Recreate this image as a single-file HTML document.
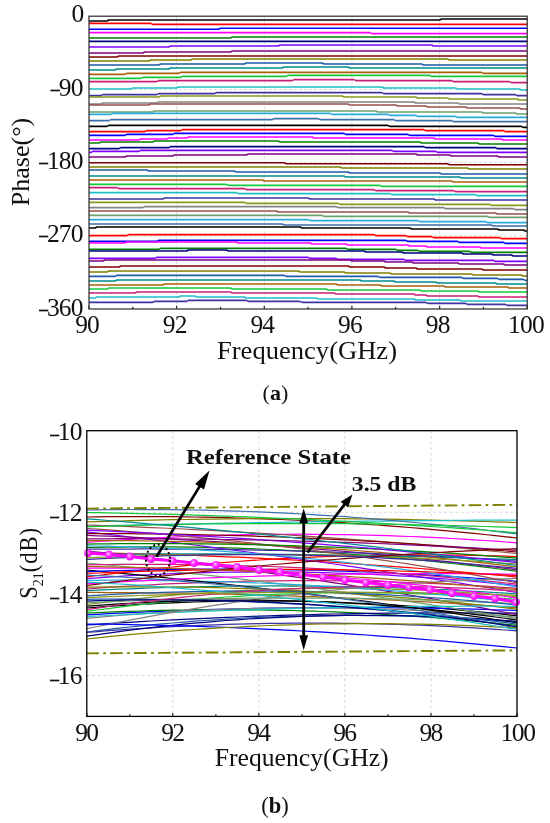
<!DOCTYPE html>
<html><head><meta charset="utf-8"><title>Figure</title>
<style>html,body{margin:0;padding:0;background:#fff}body{width:550px;height:823px;overflow:hidden}</style></head>
<body>
<svg width="550" height="823" viewBox="0 0 550 823" style="display:block">
<rect width="550" height="823" fill="#fff"/>
<g stroke="#d0d0d0" stroke-width="0.8" stroke-dasharray="3 2" fill="none">
<line x1="176.6" y1="16.2" x2="176.6" y2="309.0"/>
<line x1="264.3" y1="16.2" x2="264.3" y2="309.0"/>
<line x1="351.9" y1="16.2" x2="351.9" y2="309.0"/>
<line x1="439.6" y1="16.2" x2="439.6" y2="309.0"/>
<line x1="89.0" y1="89.4" x2="527.2" y2="89.4"/>
<line x1="89.0" y1="162.6" x2="527.2" y2="162.6"/>
<line x1="89.0" y1="235.8" x2="527.2" y2="235.8"/>
</g>
<g fill="none" stroke-width="1.6" stroke-linejoin="round">
<path d="M89.0 21.0 L106.9 21.0 L108.9 20.0 L439.6 20.0 L441.6 19.0 L527.2 19.0" stroke="#000000"/>
<path d="M89.0 23.4 L150.7 23.4 L152.7 24.4 L527.2 24.4" stroke="#FF0000"/>
<path d="M89.0 29.2 L218.5 29.2 L220.5 28.2 L527.2 28.2" stroke="#0000FF"/>
<path d="M89.0 32.6 L369.8 32.6 L371.8 33.6 L527.2 33.6" stroke="#FF00FF"/>
<path d="M89.0 38.0 L230.4 38.0 L232.4 37.0 L527.2 37.0" stroke="#008000"/>
<path d="M89.0 41.4 L527.2 41.4" stroke="#000080"/>
<path d="M89.0 47.0 L168.7 47.0 L170.7 46.0 L278.2 46.0 L280.2 45.0 L431.6 45.0 L433.6 46.0 L527.2 46.0" stroke="#8000FF"/>
<path d="M89.0 53.0 L142.8 53.0 L144.8 52.0 L230.4 52.0 L232.4 51.0 L527.2 51.0" stroke="#800080"/>
<path d="M89.0 57.0 L116.9 57.0 L118.9 56.0 L527.2 56.0" stroke="#800000"/>
<path d="M89.0 61.0 L148.7 61.0 L150.7 60.0 L190.6 60.0 L192.6 59.0 L447.5 59.0 L449.5 60.0 L527.2 60.0" stroke="#808000"/>
<path d="M89.0 65.0 L158.7 65.0 L160.7 64.0 L244.4 64.0 L246.4 63.0 L322.0 63.0 L324.0 64.0 L421.6 64.0 L423.6 65.0 L527.2 65.0" stroke="#1E5AA8"/>
<path d="M89.0 70.0 L114.9 70.0 L116.9 69.0 L168.7 69.0 L170.7 68.0 L282.2 68.0 L284.2 67.0 L347.9 67.0 L349.9 68.0 L527.2 68.0" stroke="#008C8C"/>
<path d="M89.0 74.4 L124.8 74.4 L126.8 73.4 L178.6 73.4 L180.6 72.4 L481.4 72.4 L483.4 73.4 L527.2 73.4" stroke="#A8600A"/>
<path d="M89.0 78.4 L140.8 78.4 L142.8 77.4 L180.6 77.4 L182.6 76.4 L286.2 76.4 L288.2 75.4 L429.6 75.4 L431.6 76.4 L527.2 76.4" stroke="#14C83C"/>
<path d="M89.0 81.6 L156.7 81.6 L158.7 80.6 L292.2 80.6 L294.2 79.6 L353.9 79.6 L355.9 80.6 L451.5 80.6 L453.5 81.6 L509.3 81.6 L511.3 82.6 L527.2 82.6" stroke="#C81E78"/>
<path d="M89.0 89.0 L130.8 89.0 L132.8 88.0 L176.6 88.0 L178.6 87.0 L381.8 87.0 L383.8 88.0 L455.5 88.0 L457.5 89.0 L519.2 89.0 L521.2 90.0 L527.2 90.0" stroke="#1EBEC8"/>
<path d="M89.0 95.6 L100.9 95.6 L102.9 94.6 L156.7 94.6 L158.7 93.6 L214.5 93.6 L216.5 92.6 L381.8 92.6 L383.8 93.6 L481.4 93.6 L483.4 94.6 L515.2 94.6 L517.2 95.6 L527.2 95.6" stroke="#3C32A0"/>
<path d="M89.0 97.0 L158.7 97.0 L160.7 96.0 L342.0 96.0 L344.0 97.0 L415.7 97.0 L417.7 98.0 L447.5 98.0 L449.5 99.0 L517.2 99.0 L519.2 100.0 L527.2 100.0" stroke="#8C961E"/>
<path d="M89.0 104.0 L100.9 104.0 L102.9 103.0 L156.7 103.0 L158.7 102.0 L413.7 102.0 L415.7 103.0 L457.5 103.0 L459.5 104.0 L527.2 104.0" stroke="#828282"/>
<path d="M89.0 105.0 L148.7 105.0 L150.7 104.0 L347.9 104.0 L349.9 105.0 L395.7 105.0 L397.7 106.0 L425.6 106.0 L427.6 107.0 L465.4 107.0 L467.4 108.0 L519.2 108.0 L521.2 109.0 L527.2 109.0" stroke="#96504B"/>
<path d="M89.0 112.0 L152.7 112.0 L154.7 111.0 L375.8 111.0 L377.8 112.0 L481.4 112.0 L483.4 113.0 L515.2 113.0 L517.2 114.0 L527.2 114.0" stroke="#6EA06E"/>
<path d="M89.0 114.4 L110.9 114.4 L112.9 113.4 L330.0 113.4 L332.0 114.4 L387.8 114.4 L389.8 115.4 L415.7 115.4 L417.7 116.4 L455.5 116.4 L457.5 117.4 L527.2 117.4" stroke="#28AADC"/>
<path d="M89.0 120.6 L108.9 120.6 L110.9 119.6 L272.2 119.6 L274.2 118.6 L318.1 118.6 L320.1 119.6 L393.7 119.6 L395.7 120.6 L451.5 120.6 L453.5 121.6 L527.2 121.6" stroke="#3C6EAA"/>
<path d="M89.0 126.4 L106.9 126.4 L108.9 125.4 L387.8 125.4 L389.8 126.4 L521.2 126.4 L523.2 127.4 L527.2 127.4" stroke="#000000"/>
<path d="M89.0 131.6 L144.8 131.6 L146.8 130.6 L180.6 130.6 L182.6 129.6 L423.6 129.6 L425.6 130.6 L503.3 130.6 L505.3 131.6 L527.2 131.6" stroke="#FF0000"/>
<path d="M89.0 135.4 L124.8 135.4 L126.8 134.4 L172.6 134.4 L174.6 133.4 L343.9 133.4 L345.9 134.4 L407.7 134.4 L409.7 135.4 L493.3 135.4 L495.3 136.4 L527.2 136.4" stroke="#0000FF"/>
<path d="M89.0 140.0 L138.8 140.0 L140.8 139.0 L166.7 139.0 L168.7 138.0 L186.6 138.0 L188.6 137.0 L312.1 137.0 L314.1 138.0 L433.6 138.0 L435.6 139.0 L501.3 139.0 L503.3 140.0 L527.2 140.0" stroke="#FF00FF"/>
<path d="M89.0 143.0 L99.0 143.0 L101.0 142.0 L152.7 142.0 L154.7 141.0 L278.2 141.0 L280.2 142.0 L419.6 142.0 L421.6 143.0 L477.4 143.0 L479.4 144.0 L527.2 144.0" stroke="#008000"/>
<path d="M89.0 148.6 L118.9 148.6 L120.9 147.6 L168.7 147.6 L170.7 146.6 L423.6 146.6 L425.6 147.6 L495.3 147.6 L497.3 148.6 L527.2 148.6" stroke="#000080"/>
<path d="M89.0 152.4 L91.0 152.4 L93.0 151.4 L138.8 151.4 L140.8 150.4 L391.7 150.4 L393.7 151.4 L435.6 151.4 L437.6 152.4 L527.2 152.4" stroke="#8000FF"/>
<path d="M89.0 157.0 L124.8 157.0 L126.8 156.0 L172.6 156.0 L174.6 155.0 L246.3 155.0 L248.3 154.0 L415.7 154.0 L417.7 155.0 L449.5 155.0 L451.5 156.0 L497.3 156.0 L499.3 157.0 L527.2 157.0" stroke="#800080"/>
<path d="M89.0 162.8 L284.2 162.8 L286.2 163.8 L447.5 163.8 L449.5 164.8 L527.2 164.8" stroke="#800000"/>
<path d="M89.0 167.0 L340.0 167.0 L342.0 168.0 L467.4 168.0 L469.4 169.0 L527.2 169.0" stroke="#808000"/>
<path d="M89.0 170.0 L146.8 170.0 L148.8 171.0 L234.4 171.0 L236.4 172.0 L347.9 172.0 L349.9 173.0 L439.6 173.0 L441.6 174.0 L527.2 174.0" stroke="#1E5AA8"/>
<path d="M89.0 176.0 L343.9 176.0 L345.9 177.0 L459.5 177.0 L461.5 178.0 L527.2 178.0" stroke="#008C8C"/>
<path d="M89.0 180.0 L262.3 180.0 L264.3 181.0 L451.5 181.0 L453.5 182.0 L527.2 182.0" stroke="#A8600A"/>
<path d="M89.0 184.4 L226.4 184.4 L228.4 185.4 L379.8 185.4 L381.8 186.4 L527.2 186.4" stroke="#14C83C"/>
<path d="M89.0 187.6 L116.9 187.6 L118.9 188.6 L244.4 188.6 L246.4 189.6 L373.8 189.6 L375.8 190.6 L453.5 190.6 L455.5 191.6 L527.2 191.6" stroke="#C81E78"/>
<path d="M89.0 192.6 L236.4 192.6 L238.4 193.6 L389.8 193.6 L391.8 194.6 L475.4 194.6 L477.4 195.6 L527.2 195.6" stroke="#1EBEC8"/>
<path d="M89.0 199.0 L162.7 199.0 L164.7 198.0 L308.1 198.0 L310.1 199.0 L433.6 199.0 L435.6 200.0 L527.2 200.0" stroke="#3C32A0"/>
<path d="M89.0 202.4 L244.4 202.4 L246.4 203.4 L338.0 203.4 L340.0 204.4 L489.3 204.4 L491.3 205.4 L527.2 205.4" stroke="#8C961E"/>
<path d="M89.0 207.6 L142.8 207.6 L144.8 206.6 L336.0 206.6 L338.0 207.6 L443.5 207.6 L445.5 208.6 L513.2 208.6 L515.2 209.6 L527.2 209.6" stroke="#828282"/>
<path d="M89.0 211.0 L276.2 211.0 L278.2 212.0 L407.7 212.0 L409.7 213.0 L495.3 213.0 L497.3 214.0 L527.2 214.0" stroke="#96504B"/>
<path d="M89.0 215.4 L322.0 215.4 L324.0 216.4 L487.4 216.4 L489.4 217.4 L527.2 217.4" stroke="#6EA06E"/>
<path d="M89.0 219.6 L308.1 219.6 L310.1 220.6 L417.6 220.6 L419.6 221.6 L485.4 221.6 L487.4 222.6 L527.2 222.6" stroke="#28AADC"/>
<path d="M89.0 224.0 L282.2 224.0 L284.2 225.0 L491.3 225.0 L493.3 226.0 L527.2 226.0" stroke="#3C6EAA"/>
<path d="M89.0 228.0 L95.0 228.0 L97.0 227.0 L300.1 227.0 L302.1 228.0 L409.7 228.0 L411.7 229.0 L497.3 229.0 L499.3 230.0 L523.2 230.0 L525.2 231.0 L527.2 231.0" stroke="#000000"/>
<path d="M89.0 235.6 L126.8 235.6 L128.8 234.6 L373.8 234.6 L375.8 235.6 L405.7 235.6 L407.7 236.6 L431.6 236.6 L433.6 237.6 L499.3 237.6 L501.3 238.6 L527.2 238.6" stroke="#FF0000"/>
<path d="M89.0 241.4 L156.7 241.4 L158.7 240.4 L405.7 240.4 L407.7 241.4 L457.5 241.4 L459.5 242.4 L503.3 242.4 L505.3 243.4 L527.2 243.4" stroke="#0000FF"/>
<path d="M89.0 243.0 L124.8 243.0 L126.8 242.0 L236.4 242.0 L238.4 243.0 L310.1 243.0 L312.1 244.0 L345.9 244.0 L347.9 245.0 L407.7 245.0 L409.7 246.0 L425.6 246.0 L427.6 247.0 L479.4 247.0 L481.4 248.0 L527.2 248.0" stroke="#FF00FF"/>
<path d="M89.0 249.4 L158.7 249.4 L160.7 248.4 L345.9 248.4 L347.9 249.4 L395.7 249.4 L397.7 250.4 L417.6 250.4 L419.6 251.4 L469.4 251.4 L471.4 252.4 L527.2 252.4" stroke="#008000"/>
<path d="M89.0 251.0 L186.6 251.0 L188.6 250.0 L226.4 250.0 L228.4 251.0 L363.9 251.0 L365.9 252.0 L401.7 252.0 L403.7 253.0 L461.5 253.0 L463.5 254.0 L491.3 254.0 L493.3 255.0 L511.3 255.0 L513.3 256.0 L527.2 256.0" stroke="#000080"/>
<path d="M89.0 258.4 L154.7 258.4 L156.7 257.4 L308.1 257.4 L310.1 258.4 L336.0 258.4 L338.0 259.4 L403.7 259.4 L405.7 260.4 L493.3 260.4 L495.3 261.4 L527.2 261.4" stroke="#8000FF"/>
<path d="M89.0 261.0 L102.9 261.0 L104.9 260.0 L349.9 260.0 L351.9 261.0 L383.8 261.0 L385.8 262.0 L411.7 262.0 L413.7 263.0 L457.5 263.0 L459.5 264.0 L503.3 264.0 L505.3 265.0 L527.2 265.0" stroke="#800080"/>
<path d="M89.0 267.0 L118.9 267.0 L120.9 266.0 L347.9 266.0 L349.9 267.0 L383.8 267.0 L385.8 268.0 L415.7 268.0 L417.7 269.0 L481.4 269.0 L483.4 270.0 L527.2 270.0" stroke="#800000"/>
<path d="M89.0 272.0 L106.9 272.0 L108.9 271.0 L298.1 271.0 L300.1 272.0 L343.9 272.0 L345.9 273.0 L389.8 273.0 L391.8 274.0 L471.4 274.0 L473.4 275.0 L521.2 275.0 L523.2 276.0 L527.2 276.0" stroke="#808000"/>
<path d="M89.0 276.4 L114.9 276.4 L116.9 275.4 L284.2 275.4 L286.2 276.4 L377.8 276.4 L379.8 277.4 L461.5 277.4 L463.5 278.4 L497.3 278.4 L499.3 279.4 L523.2 279.4 L525.2 280.4 L527.2 280.4" stroke="#1E5AA8"/>
<path d="M89.0 281.0 L114.9 281.0 L116.9 280.0 L359.9 280.0 L361.9 281.0 L393.7 281.0 L395.7 282.0 L435.6 282.0 L437.6 283.0 L495.3 283.0 L497.3 284.0 L527.2 284.0" stroke="#008C8C"/>
<path d="M89.0 285.0 L162.7 285.0 L164.7 284.0 L336.0 284.0 L338.0 285.0 L379.8 285.0 L381.8 286.0 L443.5 286.0 L445.5 287.0 L507.3 287.0 L509.3 288.0 L527.2 288.0" stroke="#A8600A"/>
<path d="M89.0 289.0 L106.9 289.0 L108.9 288.0 L230.4 288.0 L232.4 289.0 L326.0 289.0 L328.0 290.0 L419.6 290.0 L421.6 291.0 L477.4 291.0 L479.4 292.0 L527.2 292.0" stroke="#14C83C"/>
<path d="M89.0 293.0 L134.8 293.0 L136.8 292.0 L230.4 292.0 L232.4 293.0 L334.0 293.0 L336.0 294.0 L413.7 294.0 L415.7 295.0 L425.6 295.0 L427.6 296.0 L477.4 296.0 L479.4 297.0 L527.2 297.0" stroke="#C81E78"/>
<path d="M89.0 298.0 L95.0 298.0 L97.0 297.0 L178.6 297.0 L180.6 296.0 L194.6 296.0 L196.6 297.0 L244.4 297.0 L246.4 298.0 L316.1 298.0 L318.1 299.0 L413.7 299.0 L415.7 300.0 L459.5 300.0 L461.5 301.0 L527.2 301.0" stroke="#1EBEC8"/>
<path d="M89.0 302.4 L152.7 302.4 L154.7 301.4 L186.6 301.4 L188.6 300.4 L246.3 300.4 L248.3 301.4 L300.1 301.4 L302.1 302.4 L425.6 302.4 L427.6 303.4 L465.4 303.4 L467.4 304.4 L505.3 304.4 L507.3 305.4 L527.2 305.4" stroke="#3C32A0"/>
</g>
<g stroke="#2a2a2a" stroke-width="1.2" fill="none">
<rect x="89.0" y="16.2" width="438.2" height="292.8"/>
<line x1="89.0" y1="309.0" x2="89.0" y2="305.7"/>
<line x1="132.8" y1="309.0" x2="132.8" y2="306.8"/>
<line x1="176.6" y1="309.0" x2="176.6" y2="305.7"/>
<line x1="220.5" y1="309.0" x2="220.5" y2="306.8"/>
<line x1="264.3" y1="309.0" x2="264.3" y2="305.7"/>
<line x1="308.1" y1="309.0" x2="308.1" y2="306.8"/>
<line x1="351.9" y1="309.0" x2="351.9" y2="305.7"/>
<line x1="395.7" y1="309.0" x2="395.7" y2="306.8"/>
<line x1="439.6" y1="309.0" x2="439.6" y2="305.7"/>
<line x1="483.4" y1="309.0" x2="483.4" y2="306.8"/>
<line x1="527.2" y1="309.0" x2="527.2" y2="305.7"/>
</g>
<g font-family="'Liberation Serif', serif" fill="#111">
<text x="84.2" y="21.8" font-size="25.5" text-anchor="end">0</text>
<text x="83.6" y="96.0" font-size="25.5" text-anchor="end" textLength="32.6" lengthAdjust="spacing"><tspan font-size="16.5" dy="-2.2" stroke="#111" stroke-width="0.85">–</tspan><tspan dy="2.2">90</tspan></text>
<text x="83.6" y="169.2" font-size="25.5" text-anchor="end" textLength="44.2" lengthAdjust="spacing"><tspan font-size="16.5" dy="-2.2" stroke="#111" stroke-width="0.85">–</tspan><tspan dy="2.2">180</tspan></text>
<text x="83.6" y="242.4" font-size="25.5" text-anchor="end" textLength="44.2" lengthAdjust="spacing"><tspan font-size="16.5" dy="-2.2" stroke="#111" stroke-width="0.85">–</tspan><tspan dy="2.2">270</tspan></text>
<text x="83.6" y="316.2" font-size="25.5" text-anchor="end" textLength="44.2" lengthAdjust="spacing"><tspan font-size="16.5" dy="-2.2" stroke="#111" stroke-width="0.85">–</tspan><tspan dy="2.2">360</tspan></text>
<text x="87.5" y="333.2" font-size="25.5" text-anchor="middle" textLength="24.6" lengthAdjust="spacing">90</text>
<text x="175.1" y="333.2" font-size="25.5" text-anchor="middle" textLength="24.6" lengthAdjust="spacing">92</text>
<text x="262.8" y="333.2" font-size="25.5" text-anchor="middle" textLength="24.6" lengthAdjust="spacing">94</text>
<text x="350.4" y="333.2" font-size="25.5" text-anchor="middle" textLength="24.6" lengthAdjust="spacing">96</text>
<text x="438.1" y="333.2" font-size="25.5" text-anchor="middle" textLength="24.6" lengthAdjust="spacing">98</text>
<text x="526.4" y="333.2" font-size="25.5" text-anchor="middle" textLength="36.9" lengthAdjust="spacing">100</text>
<text x="307" y="359" font-size="25.5" text-anchor="middle" textLength="180" lengthAdjust="spacingAndGlyphs">Frequency(GHz)</text>
<text transform="translate(29.3 162) rotate(-90)" font-size="25" text-anchor="middle" textLength="88.5" lengthAdjust="spacingAndGlyphs">Phase(°)</text>
<text x="275.4" y="400.4" font-size="22" text-anchor="middle">(<tspan font-weight="bold">a</tspan>)</text>
</g>
<g stroke="#d4d4d4" stroke-width="0.9" stroke-dasharray="3 2.5" fill="none">
<line x1="172.8" y1="430.7" x2="172.8" y2="716.4"/>
<line x1="258.9" y1="430.7" x2="258.9" y2="716.4"/>
<line x1="344.9" y1="430.7" x2="344.9" y2="716.4"/>
<line x1="431.0" y1="430.7" x2="431.0" y2="716.4"/>
<line x1="86.8" y1="512.3" x2="517.0" y2="512.3"/>
<line x1="86.8" y1="594.0" x2="517.0" y2="594.0"/>
<line x1="86.8" y1="675.6" x2="517.0" y2="675.6"/>
</g>
<g fill="none" stroke-width="1.25" stroke-linejoin="round">
<path d="M86.8 608.0 L97.6 607.1 L108.3 606.4 L119.1 605.6 L129.8 605.0 L140.6 604.3 L151.3 603.8 L162.1 603.2 L172.8 602.8 L183.6 602.4 L194.3 602.0 L205.1 601.7 L215.9 601.4 L226.6 601.2 L237.4 601.1 L248.1 601.0 L258.9 601.0 L269.6 601.0 L280.4 601.0 L291.1 601.2 L301.9 601.3 L312.7 601.6 L323.4 601.8 L334.2 602.2 L344.9 602.6 L355.7 603.0 L366.4 603.5 L377.2 604.0 L387.9 604.6 L398.7 605.3 L409.4 606.0 L420.2 606.7 L431.0 607.5 L441.7 608.4 L452.5 609.3 L463.2 610.3 L474.0 611.3 L484.7 612.4 L495.5 613.5 L506.2 614.7 L517.0 615.9" stroke="#000000"/>
<path d="M86.8 552.7 L97.6 552.9 L108.3 553.1 L119.1 553.3 L129.8 553.5 L140.6 553.8 L151.3 554.1 L162.1 554.4 L172.8 554.8 L183.6 555.1 L194.3 555.5 L205.1 555.9 L215.9 556.3 L226.6 556.8 L237.4 557.2 L248.1 557.7 L258.9 558.2 L269.6 558.8 L280.4 559.3 L291.1 559.9 L301.9 560.5 L312.7 561.1 L323.4 561.8 L334.2 562.4 L344.9 563.1 L355.7 563.8 L366.4 564.6 L377.2 565.3 L387.9 566.1 L398.7 566.9 L409.4 567.7 L420.2 568.5 L431.0 569.4 L441.7 570.3 L452.5 571.2 L463.2 572.1 L474.0 573.0 L484.7 574.0 L495.5 575.0 L506.2 576.0 L517.0 577.1" stroke="#FF0000"/>
<path d="M86.8 614.9 L97.6 614.3 L108.3 613.7 L119.1 613.2 L129.8 612.7 L140.6 612.2 L151.3 611.7 L162.1 611.3 L172.8 610.8 L183.6 610.5 L194.3 610.1 L205.1 609.7 L215.9 609.4 L226.6 609.1 L237.4 608.9 L248.1 608.6 L258.9 608.4 L269.6 608.2 L280.4 608.0 L291.1 607.9 L301.9 607.7 L312.7 607.6 L323.4 607.6 L334.2 607.5 L344.9 607.5 L355.7 607.5 L366.4 607.5 L377.2 607.6 L387.9 607.7 L398.7 607.8 L409.4 607.9 L420.2 608.0 L431.0 608.2 L441.7 608.4 L452.5 608.6 L463.2 608.9 L474.0 609.1 L484.7 609.4 L495.5 609.8 L506.2 610.1 L517.0 610.5" stroke="#0000FF"/>
<path d="M86.8 542.3 L97.6 541.5 L108.3 540.8 L119.1 540.0 L129.8 539.4 L140.6 538.7 L151.3 538.1 L162.1 537.6 L172.8 537.1 L183.6 536.6 L194.3 536.2 L205.1 535.8 L215.9 535.5 L226.6 535.2 L237.4 534.9 L248.1 534.7 L258.9 534.5 L269.6 534.4 L280.4 534.3 L291.1 534.3 L301.9 534.2 L312.7 534.3 L323.4 534.4 L334.2 534.5 L344.9 534.6 L355.7 534.8 L366.4 535.1 L377.2 535.4 L387.9 535.7 L398.7 536.1 L409.4 536.5 L420.2 536.9 L431.0 537.4 L441.7 537.9 L452.5 538.5 L463.2 539.1 L474.0 539.8 L484.7 540.5 L495.5 541.2 L506.2 542.0 L517.0 542.9" stroke="#FF00FF"/>
<path d="M86.8 613.2 L97.6 612.6 L108.3 612.2 L119.1 611.7 L129.8 611.3 L140.6 611.0 L151.3 610.7 L162.1 610.4 L172.8 610.2 L183.6 610.0 L194.3 609.9 L205.1 609.8 L215.9 609.7 L226.6 609.7 L237.4 609.7 L248.1 609.8 L258.9 609.9 L269.6 610.1 L280.4 610.3 L291.1 610.5 L301.9 610.8 L312.7 611.1 L323.4 611.5 L334.2 611.9 L344.9 612.4 L355.7 612.9 L366.4 613.4 L377.2 614.0 L387.9 614.6 L398.7 615.3 L409.4 616.0 L420.2 616.7 L431.0 617.5 L441.7 618.4 L452.5 619.3 L463.2 620.2 L474.0 621.1 L484.7 622.2 L495.5 623.2 L506.2 624.3 L517.0 625.4" stroke="#008000"/>
<path d="M86.8 625.0 L97.6 624.3 L108.3 623.6 L119.1 622.9 L129.8 622.3 L140.6 621.6 L151.3 621.0 L162.1 620.5 L172.8 619.9 L183.6 619.3 L194.3 618.8 L205.1 618.3 L215.9 617.8 L226.6 617.4 L237.4 617.0 L248.1 616.5 L258.9 616.1 L269.6 615.8 L280.4 615.4 L291.1 615.1 L301.9 614.8 L312.7 614.5 L323.4 614.2 L334.2 614.0 L344.9 613.8 L355.7 613.6 L366.4 613.4 L377.2 613.3 L387.9 613.1 L398.7 613.0 L409.4 612.9 L420.2 612.8 L431.0 612.8 L441.7 612.8 L452.5 612.8 L463.2 612.8 L474.0 612.8 L484.7 612.9 L495.5 613.0 L506.2 613.1 L517.0 613.2" stroke="#000080"/>
<path d="M86.8 578.6 L97.6 577.8 L108.3 577.1 L119.1 576.4 L129.8 575.7 L140.6 575.2 L151.3 574.6 L162.1 574.1 L172.8 573.7 L183.6 573.3 L194.3 572.9 L205.1 572.6 L215.9 572.4 L226.6 572.2 L237.4 572.1 L248.1 572.0 L258.9 571.9 L269.6 571.9 L280.4 572.0 L291.1 572.1 L301.9 572.2 L312.7 572.4 L323.4 572.7 L334.2 573.0 L344.9 573.3 L355.7 573.7 L366.4 574.1 L377.2 574.6 L387.9 575.2 L398.7 575.8 L409.4 576.4 L420.2 577.1 L431.0 577.8 L441.7 578.6 L452.5 579.5 L463.2 580.4 L474.0 581.3 L484.7 582.3 L495.5 583.3 L506.2 584.4 L517.0 585.5" stroke="#8000FF"/>
<path d="M86.8 551.0 L97.6 552.1 L108.3 553.2 L119.1 554.4 L129.8 555.6 L140.6 556.8 L151.3 558.0 L162.1 559.3 L172.8 560.6 L183.6 561.9 L194.3 563.2 L205.1 564.6 L215.9 565.9 L226.6 567.4 L237.4 568.8 L248.1 570.2 L258.9 571.7 L269.6 573.2 L280.4 574.8 L291.1 576.3 L301.9 577.9 L312.7 579.5 L323.4 581.1 L334.2 582.8 L344.9 584.4 L355.7 586.1 L366.4 587.9 L377.2 589.6 L387.9 591.4 L398.7 593.2 L409.4 595.0 L420.2 596.9 L431.0 598.7 L441.7 600.6 L452.5 602.5 L463.2 604.5 L474.0 606.4 L484.7 608.4 L495.5 610.5 L506.2 612.5 L517.0 614.6" stroke="#800080"/>
<path d="M86.8 517.0 L97.6 516.8 L108.3 516.7 L119.1 516.6 L129.8 516.6 L140.6 516.6 L151.3 516.6 L162.1 516.6 L172.8 516.7 L183.6 516.8 L194.3 517.0 L205.1 517.2 L215.9 517.4 L226.6 517.7 L237.4 518.0 L248.1 518.3 L258.9 518.7 L269.6 519.1 L280.4 519.5 L291.1 520.0 L301.9 520.5 L312.7 521.0 L323.4 521.6 L334.2 522.2 L344.9 522.9 L355.7 523.6 L366.4 524.3 L377.2 525.0 L387.9 525.8 L398.7 526.6 L409.4 527.5 L420.2 528.4 L431.0 529.3 L441.7 530.3 L452.5 531.3 L463.2 532.3 L474.0 533.4 L484.7 534.5 L495.5 535.6 L506.2 536.8 L517.0 538.0" stroke="#800000"/>
<path d="M86.8 521.9 L97.6 521.6 L108.3 521.3 L119.1 521.0 L129.8 520.7 L140.6 520.4 L151.3 520.1 L162.1 519.9 L172.8 519.7 L183.6 519.5 L194.3 519.3 L205.1 519.1 L215.9 519.0 L226.6 518.9 L237.4 518.8 L248.1 518.7 L258.9 518.6 L269.6 518.6 L280.4 518.5 L291.1 518.5 L301.9 518.5 L312.7 518.6 L323.4 518.6 L334.2 518.7 L344.9 518.7 L355.7 518.8 L366.4 519.0 L377.2 519.1 L387.9 519.2 L398.7 519.4 L409.4 519.6 L420.2 519.8 L431.0 520.0 L441.7 520.3 L452.5 520.6 L463.2 520.8 L474.0 521.1 L484.7 521.5 L495.5 521.8 L506.2 522.2 L517.0 522.5" stroke="#808000"/>
<path d="M86.8 632.0 L97.6 630.7 L108.3 629.4 L119.1 628.2 L129.8 627.0 L140.6 625.9 L151.3 624.9 L162.1 623.9 L172.8 623.0 L183.6 622.1 L194.3 621.2 L205.1 620.5 L215.9 619.8 L226.6 619.1 L237.4 618.5 L248.1 617.9 L258.9 617.4 L269.6 617.0 L280.4 616.6 L291.1 616.3 L301.9 616.0 L312.7 615.8 L323.4 615.6 L334.2 615.5 L344.9 615.4 L355.7 615.4 L366.4 615.5 L377.2 615.6 L387.9 615.8 L398.7 616.0 L409.4 616.2 L420.2 616.6 L431.0 617.0 L441.7 617.4 L452.5 617.9 L463.2 618.4 L474.0 619.0 L484.7 619.7 L495.5 620.4 L506.2 621.2 L517.0 622.0" stroke="#1E5AA8"/>
<path d="M86.8 590.7 L97.6 590.2 L108.3 589.7 L119.1 589.2 L129.8 588.8 L140.6 588.4 L151.3 588.0 L162.1 587.6 L172.8 587.3 L183.6 587.0 L194.3 586.8 L205.1 586.6 L215.9 586.4 L226.6 586.2 L237.4 586.1 L248.1 586.0 L258.9 586.0 L269.6 585.9 L280.4 585.9 L291.1 586.0 L301.9 586.0 L312.7 586.1 L323.4 586.3 L334.2 586.4 L344.9 586.6 L355.7 586.8 L366.4 587.1 L377.2 587.4 L387.9 587.7 L398.7 588.0 L409.4 588.4 L420.2 588.8 L431.0 589.3 L441.7 589.7 L452.5 590.2 L463.2 590.8 L474.0 591.3 L484.7 591.9 L495.5 592.6 L506.2 593.2 L517.0 593.9" stroke="#008C8C"/>
<path d="M86.8 592.4 L97.6 592.4 L108.3 592.5 L119.1 592.5 L129.8 592.6 L140.6 592.7 L151.3 592.8 L162.1 592.9 L172.8 593.1 L183.6 593.2 L194.3 593.4 L205.1 593.6 L215.9 593.8 L226.6 594.1 L237.4 594.3 L248.1 594.6 L258.9 594.9 L269.6 595.2 L280.4 595.5 L291.1 595.9 L301.9 596.3 L312.7 596.7 L323.4 597.1 L334.2 597.5 L344.9 598.0 L355.7 598.4 L366.4 598.9 L377.2 599.4 L387.9 599.9 L398.7 600.5 L409.4 601.1 L420.2 601.6 L431.0 602.2 L441.7 602.9 L452.5 603.5 L463.2 604.2 L474.0 604.8 L484.7 605.5 L495.5 606.2 L506.2 607.0 L517.0 607.7" stroke="#A8600A"/>
<path d="M86.8 611.4 L97.6 610.0 L108.3 608.6 L119.1 607.2 L129.8 605.9 L140.6 604.7 L151.3 603.5 L162.1 602.4 L172.8 601.4 L183.6 600.4 L194.3 599.4 L205.1 598.6 L215.9 597.8 L226.6 597.0 L237.4 596.3 L248.1 595.7 L258.9 595.1 L269.6 594.6 L280.4 594.2 L291.1 593.8 L301.9 593.5 L312.7 593.2 L323.4 593.0 L334.2 592.8 L344.9 592.7 L355.7 592.7 L366.4 592.7 L377.2 592.8 L387.9 593.0 L398.7 593.2 L409.4 593.5 L420.2 593.8 L431.0 594.2 L441.7 594.6 L452.5 595.1 L463.2 595.7 L474.0 596.3 L484.7 597.0 L495.5 597.8 L506.2 598.6 L517.0 599.5" stroke="#14C83C"/>
<path d="M86.8 589.0 L97.6 588.2 L108.3 587.4 L119.1 586.7 L129.8 586.0 L140.6 585.4 L151.3 584.8 L162.1 584.2 L172.8 583.7 L183.6 583.3 L194.3 582.8 L205.1 582.4 L215.9 582.1 L226.6 581.7 L237.4 581.5 L248.1 581.2 L258.9 581.0 L269.6 580.9 L280.4 580.8 L291.1 580.7 L301.9 580.7 L312.7 580.7 L323.4 580.7 L334.2 580.8 L344.9 580.9 L355.7 581.1 L366.4 581.3 L377.2 581.5 L387.9 581.8 L398.7 582.1 L409.4 582.5 L420.2 582.9 L431.0 583.4 L441.7 583.8 L452.5 584.4 L463.2 584.9 L474.0 585.5 L484.7 586.2 L495.5 586.9 L506.2 587.6 L517.0 588.3" stroke="#C81E78"/>
<path d="M86.8 526.0 L97.6 525.8 L108.3 525.5 L119.1 525.3 L129.8 525.0 L140.6 524.8 L151.3 524.6 L162.1 524.4 L172.8 524.2 L183.6 524.0 L194.3 523.8 L205.1 523.6 L215.9 523.4 L226.6 523.2 L237.4 523.0 L248.1 522.8 L258.9 522.6 L269.6 522.5 L280.4 522.3 L291.1 522.2 L301.9 522.0 L312.7 521.9 L323.4 521.7 L334.2 521.6 L344.9 521.4 L355.7 521.3 L366.4 521.2 L377.2 521.1 L387.9 521.0 L398.7 520.9 L409.4 520.8 L420.2 520.7 L431.0 520.6 L441.7 520.5 L452.5 520.4 L463.2 520.3 L474.0 520.2 L484.7 520.2 L495.5 520.1 L506.2 520.1 L517.0 520.0" stroke="#1EBEC8"/>
<path d="M86.8 632.4 L97.6 631.6 L108.3 630.7 L119.1 629.9 L129.8 629.2 L140.6 628.5 L151.3 627.8 L162.1 627.2 L172.8 626.6 L183.6 626.1 L194.3 625.6 L205.1 625.2 L215.9 624.8 L226.6 624.4 L237.4 624.1 L248.1 623.8 L258.9 623.6 L269.6 623.4 L280.4 623.3 L291.1 623.2 L301.9 623.1 L312.7 623.1 L323.4 623.1 L334.2 623.2 L344.9 623.3 L355.7 623.4 L366.4 623.6 L377.2 623.9 L387.9 624.1 L398.7 624.5 L409.4 624.8 L420.2 625.2 L431.0 625.7 L441.7 626.2 L452.5 626.7 L463.2 627.3 L474.0 627.9 L484.7 628.6 L495.5 629.3 L506.2 630.0 L517.0 630.8" stroke="#3C32A0"/>
<path d="M86.8 604.5 L97.6 603.2 L108.3 601.9 L119.1 600.6 L129.8 599.4 L140.6 598.3 L151.3 597.2 L162.1 596.2 L172.8 595.3 L183.6 594.4 L194.3 593.6 L205.1 592.8 L215.9 592.1 L226.6 591.5 L237.4 590.9 L248.1 590.4 L258.9 589.9 L269.6 589.5 L280.4 589.2 L291.1 588.9 L301.9 588.7 L312.7 588.5 L323.4 588.4 L334.2 588.3 L344.9 588.3 L355.7 588.4 L366.4 588.6 L377.2 588.7 L387.9 589.0 L398.7 589.3 L409.4 589.7 L420.2 590.1 L431.0 590.6 L441.7 591.2 L452.5 591.8 L463.2 592.4 L474.0 593.2 L484.7 594.0 L495.5 594.8 L506.2 595.7 L517.0 596.7" stroke="#8C961E"/>
<path d="M86.8 618.3 L97.6 617.3 L108.3 616.4 L119.1 615.5 L129.8 614.6 L140.6 613.8 L151.3 613.1 L162.1 612.4 L172.8 611.7 L183.6 611.1 L194.3 610.6 L205.1 610.1 L215.9 609.6 L226.6 609.2 L237.4 608.9 L248.1 608.6 L258.9 608.3 L269.6 608.1 L280.4 608.0 L291.1 607.9 L301.9 607.8 L312.7 607.8 L323.4 607.9 L334.2 608.0 L344.9 608.1 L355.7 608.3 L366.4 608.6 L377.2 608.9 L387.9 609.2 L398.7 609.6 L409.4 610.1 L420.2 610.6 L431.0 611.1 L441.7 611.7 L452.5 612.3 L463.2 613.0 L474.0 613.8 L484.7 614.6 L495.5 615.4 L506.2 616.3 L517.0 617.3" stroke="#828282"/>
<path d="M86.8 525.0 L97.6 525.4 L108.3 525.8 L119.1 526.2 L129.8 526.6 L140.6 527.1 L151.3 527.6 L162.1 528.0 L172.8 528.5 L183.6 529.0 L194.3 529.6 L205.1 530.1 L215.9 530.7 L226.6 531.3 L237.4 531.9 L248.1 532.5 L258.9 533.1 L269.6 533.8 L280.4 534.5 L291.1 535.1 L301.9 535.8 L312.7 536.6 L323.4 537.3 L334.2 538.1 L344.9 538.8 L355.7 539.6 L366.4 540.4 L377.2 541.2 L387.9 542.1 L398.7 542.9 L409.4 543.8 L420.2 544.7 L431.0 545.6 L441.7 546.6 L452.5 547.5 L463.2 548.5 L474.0 549.4 L484.7 550.4 L495.5 551.5 L506.2 552.5 L517.0 553.5" stroke="#96504B"/>
<path d="M86.8 563.0 L97.6 564.0 L108.3 565.0 L119.1 566.0 L129.8 567.1 L140.6 568.2 L151.3 569.2 L162.1 570.3 L172.8 571.5 L183.6 572.6 L194.3 573.8 L205.1 575.0 L215.9 576.2 L226.6 577.4 L237.4 578.7 L248.1 579.9 L258.9 581.2 L269.6 582.6 L280.4 583.9 L291.1 585.3 L301.9 586.6 L312.7 588.0 L323.4 589.5 L334.2 590.9 L344.9 592.4 L355.7 593.8 L366.4 595.4 L377.2 596.9 L387.9 598.4 L398.7 600.0 L409.4 601.6 L420.2 603.2 L431.0 604.8 L441.7 606.5 L452.5 608.2 L463.2 609.9 L474.0 611.6 L484.7 613.3 L495.5 615.1 L506.2 616.8 L517.0 618.6" stroke="#6EA06E"/>
<path d="M86.8 580.3 L97.6 580.3 L108.3 580.2 L119.1 580.2 L129.8 580.2 L140.6 580.3 L151.3 580.4 L162.1 580.5 L172.8 580.6 L183.6 580.8 L194.3 581.0 L205.1 581.3 L215.9 581.6 L226.6 581.9 L237.4 582.2 L248.1 582.6 L258.9 583.0 L269.6 583.4 L280.4 583.9 L291.1 584.4 L301.9 584.9 L312.7 585.5 L323.4 586.1 L334.2 586.7 L344.9 587.4 L355.7 588.1 L366.4 588.8 L377.2 589.5 L387.9 590.3 L398.7 591.1 L409.4 592.0 L420.2 592.9 L431.0 593.8 L441.7 594.7 L452.5 595.7 L463.2 596.7 L474.0 597.8 L484.7 598.8 L495.5 599.9 L506.2 601.1 L517.0 602.2" stroke="#28AADC"/>
<path d="M86.8 510.0 L97.6 509.8 L108.3 509.7 L119.1 509.6 L129.8 509.5 L140.6 509.5 L151.3 509.5 L162.1 509.6 L172.8 509.7 L183.6 509.8 L194.3 510.0 L205.1 510.2 L215.9 510.5 L226.6 510.8 L237.4 511.1 L248.1 511.5 L258.9 511.9 L269.6 512.4 L280.4 512.9 L291.1 513.4 L301.9 514.0 L312.7 514.6 L323.4 515.3 L334.2 516.0 L344.9 516.7 L355.7 517.5 L366.4 518.3 L377.2 519.2 L387.9 520.1 L398.7 521.0 L409.4 522.0 L420.2 523.0 L431.0 524.1 L441.7 525.2 L452.5 526.3 L463.2 527.5 L474.0 528.7 L484.7 530.0 L495.5 531.3 L506.2 532.6 L517.0 534.0" stroke="#3C6EAA"/>
<path d="M86.8 570.0 L97.6 571.0 L108.3 572.0 L119.1 573.1 L129.8 574.1 L140.6 575.2 L151.3 576.3 L162.1 577.4 L172.8 578.5 L183.6 579.7 L194.3 580.8 L205.1 582.0 L215.9 583.2 L226.6 584.4 L237.4 585.6 L248.1 586.8 L258.9 588.1 L269.6 589.3 L280.4 590.6 L291.1 591.9 L301.9 593.2 L312.7 594.6 L323.4 595.9 L334.2 597.3 L344.9 598.6 L355.7 600.0 L366.4 601.4 L377.2 602.8 L387.9 604.3 L398.7 605.7 L409.4 607.2 L420.2 608.7 L431.0 610.2 L441.7 611.7 L452.5 613.2 L463.2 614.8 L474.0 616.3 L484.7 617.9 L495.5 619.5 L506.2 621.1 L517.0 622.7" stroke="#000000"/>
<path d="M86.8 576.9 L97.6 575.5 L108.3 574.1 L119.1 572.8 L129.8 571.6 L140.6 570.3 L151.3 569.2 L162.1 568.0 L172.8 567.0 L183.6 565.9 L194.3 564.9 L205.1 564.0 L215.9 563.1 L226.6 562.3 L237.4 561.5 L248.1 560.7 L258.9 560.0 L269.6 559.3 L280.4 558.7 L291.1 558.1 L301.9 557.6 L312.7 557.1 L323.4 556.7 L334.2 556.3 L344.9 555.9 L355.7 555.6 L366.4 555.4 L377.2 555.2 L387.9 555.0 L398.7 554.9 L409.4 554.8 L420.2 554.8 L431.0 554.8 L441.7 554.9 L452.5 555.0 L463.2 555.1 L474.0 555.3 L484.7 555.6 L495.5 555.9 L506.2 556.2 L517.0 556.6" stroke="#FF0000"/>
<path d="M86.8 571.7 L97.6 571.3 L108.3 570.9 L119.1 570.6 L129.8 570.3 L140.6 570.0 L151.3 569.8 L162.1 569.6 L172.8 569.4 L183.6 569.3 L194.3 569.2 L205.1 569.1 L215.9 569.1 L226.6 569.1 L237.4 569.1 L248.1 569.2 L258.9 569.3 L269.6 569.4 L280.4 569.6 L291.1 569.8 L301.9 570.0 L312.7 570.2 L323.4 570.5 L334.2 570.8 L344.9 571.2 L355.7 571.6 L366.4 572.0 L377.2 572.5 L387.9 572.9 L398.7 573.5 L409.4 574.0 L420.2 574.6 L431.0 575.2 L441.7 575.9 L452.5 576.5 L463.2 577.3 L474.0 578.0 L484.7 578.8 L495.5 579.6 L506.2 580.4 L517.0 581.3" stroke="#0000FF"/>
<path d="M86.8 583.8 L97.6 583.2 L108.3 582.6 L119.1 582.0 L129.8 581.4 L140.6 580.9 L151.3 580.3 L162.1 579.8 L172.8 579.3 L183.6 578.9 L194.3 578.4 L205.1 578.0 L215.9 577.6 L226.6 577.2 L237.4 576.8 L248.1 576.5 L258.9 576.2 L269.6 575.8 L280.4 575.6 L291.1 575.3 L301.9 575.0 L312.7 574.8 L323.4 574.6 L334.2 574.4 L344.9 574.2 L355.7 574.1 L366.4 574.0 L377.2 573.8 L387.9 573.8 L398.7 573.7 L409.4 573.6 L420.2 573.6 L431.0 573.6 L441.7 573.6 L452.5 573.6 L463.2 573.7 L474.0 573.7 L484.7 573.8 L495.5 573.9 L506.2 574.1 L517.0 574.2" stroke="#FF00FF"/>
<path d="M86.8 547.5 L97.6 547.3 L108.3 547.1 L119.1 547.0 L129.8 546.9 L140.6 546.8 L151.3 546.8 L162.1 546.8 L172.8 546.9 L183.6 547.0 L194.3 547.2 L205.1 547.4 L215.9 547.6 L226.6 547.9 L237.4 548.2 L248.1 548.6 L258.9 549.0 L269.6 549.5 L280.4 549.9 L291.1 550.5 L301.9 551.1 L312.7 551.7 L323.4 552.3 L334.2 553.0 L344.9 553.8 L355.7 554.6 L366.4 555.4 L377.2 556.3 L387.9 557.2 L398.7 558.1 L409.4 559.1 L420.2 560.1 L431.0 561.2 L441.7 562.3 L452.5 563.5 L463.2 564.7 L474.0 565.9 L484.7 567.2 L495.5 568.5 L506.2 569.9 L517.0 571.3" stroke="#008000"/>
<path d="M86.8 636.1 L97.6 634.6 L108.3 633.1 L119.1 631.6 L129.8 630.2 L140.6 628.9 L151.3 627.6 L162.1 626.4 L172.8 625.3 L183.6 624.2 L194.3 623.2 L205.1 622.3 L215.9 621.4 L226.6 620.5 L237.4 619.8 L248.1 619.0 L258.9 618.4 L269.6 617.8 L280.4 617.3 L291.1 616.8 L301.9 616.4 L312.7 616.1 L323.4 615.8 L334.2 615.6 L344.9 615.4 L355.7 615.4 L366.4 615.3 L377.2 615.4 L387.9 615.4 L398.7 615.6 L409.4 615.8 L420.2 616.1 L431.0 616.4 L441.7 616.8 L452.5 617.3 L463.2 617.8 L474.0 618.4 L484.7 619.1 L495.5 619.8 L506.2 620.5 L517.0 621.4" stroke="#000080"/>
<path d="M86.8 531.9 L97.6 533.2 L108.3 534.4 L119.1 535.7 L129.8 537.0 L140.6 538.3 L151.3 539.6 L162.1 540.9 L172.8 542.3 L183.6 543.6 L194.3 545.0 L205.1 546.4 L215.9 547.8 L226.6 549.2 L237.4 550.6 L248.1 552.0 L258.9 553.5 L269.6 555.0 L280.4 556.4 L291.1 557.9 L301.9 559.4 L312.7 561.0 L323.4 562.5 L334.2 564.0 L344.9 565.6 L355.7 567.2 L366.4 568.8 L377.2 570.4 L387.9 572.0 L398.7 573.6 L409.4 575.3 L420.2 576.9 L431.0 578.6 L441.7 580.3 L452.5 582.0 L463.2 583.7 L474.0 585.5 L484.7 587.2 L495.5 589.0 L506.2 590.7 L517.0 592.5" stroke="#8000FF"/>
<path d="M86.8 535.4 L97.6 535.8 L108.3 536.2 L119.1 536.6 L129.8 537.1 L140.6 537.6 L151.3 538.1 L162.1 538.6 L172.8 539.2 L183.6 539.8 L194.3 540.4 L205.1 541.0 L215.9 541.7 L226.6 542.4 L237.4 543.1 L248.1 543.8 L258.9 544.5 L269.6 545.3 L280.4 546.1 L291.1 547.0 L301.9 547.8 L312.7 548.7 L323.4 549.6 L334.2 550.5 L344.9 551.4 L355.7 552.4 L366.4 553.4 L377.2 554.4 L387.9 555.5 L398.7 556.5 L409.4 557.6 L420.2 558.7 L431.0 559.9 L441.7 561.1 L452.5 562.2 L463.2 563.5 L474.0 564.7 L484.7 566.0 L495.5 567.2 L506.2 568.5 L517.0 569.9" stroke="#800080"/>
<path d="M86.8 533.7 L97.6 533.7 L108.3 533.7 L119.1 533.7 L129.8 533.7 L140.6 533.8 L151.3 533.9 L162.1 534.0 L172.8 534.2 L183.6 534.4 L194.3 534.6 L205.1 534.8 L215.9 535.0 L226.6 535.3 L237.4 535.6 L248.1 535.9 L258.9 536.3 L269.6 536.6 L280.4 537.0 L291.1 537.5 L301.9 537.9 L312.7 538.4 L323.4 538.9 L334.2 539.4 L344.9 539.9 L355.7 540.5 L366.4 541.1 L377.2 541.7 L387.9 542.3 L398.7 543.0 L409.4 543.7 L420.2 544.4 L431.0 545.2 L441.7 545.9 L452.5 546.7 L463.2 547.5 L474.0 548.4 L484.7 549.2 L495.5 550.1 L506.2 551.0 L517.0 552.0" stroke="#800000"/>
<path d="M86.8 587.2 L97.6 587.1 L108.3 586.9 L119.1 586.9 L129.8 586.8 L140.6 586.8 L151.3 586.8 L162.1 586.9 L172.8 587.0 L183.6 587.1 L194.3 587.2 L205.1 587.4 L215.9 587.7 L226.6 588.0 L237.4 588.3 L248.1 588.6 L258.9 589.0 L269.6 589.4 L280.4 589.9 L291.1 590.4 L301.9 590.9 L312.7 591.5 L323.4 592.1 L334.2 592.7 L344.9 593.4 L355.7 594.1 L366.4 594.8 L377.2 595.6 L387.9 596.4 L398.7 597.3 L409.4 598.2 L420.2 599.1 L431.0 600.1 L441.7 601.1 L452.5 602.1 L463.2 603.2 L474.0 604.3 L484.7 605.4 L495.5 606.6 L506.2 607.8 L517.0 609.1" stroke="#808000"/>
<path d="M86.8 599.3 L97.6 599.2 L108.3 599.2 L119.1 599.2 L129.8 599.2 L140.6 599.2 L151.3 599.3 L162.1 599.4 L172.8 599.6 L183.6 599.8 L194.3 600.0 L205.1 600.3 L215.9 600.6 L226.6 600.9 L237.4 601.3 L248.1 601.7 L258.9 602.2 L269.6 602.7 L280.4 603.2 L291.1 603.8 L301.9 604.4 L312.7 605.0 L323.4 605.7 L334.2 606.4 L344.9 607.1 L355.7 607.9 L366.4 608.7 L377.2 609.6 L387.9 610.5 L398.7 611.4 L409.4 612.4 L420.2 613.4 L431.0 614.4 L441.7 615.5 L452.5 616.6 L463.2 617.8 L474.0 619.0 L484.7 620.2 L495.5 621.4 L506.2 622.7 L517.0 624.1" stroke="#1E5AA8"/>
<path d="M86.8 554.4 L97.6 554.3 L108.3 554.2 L119.1 554.1 L129.8 554.0 L140.6 554.0 L151.3 553.9 L162.1 553.9 L172.8 553.9 L183.6 553.9 L194.3 553.9 L205.1 553.9 L215.9 553.9 L226.6 553.9 L237.4 554.0 L248.1 554.1 L258.9 554.1 L269.6 554.2 L280.4 554.3 L291.1 554.4 L301.9 554.6 L312.7 554.7 L323.4 554.8 L334.2 555.0 L344.9 555.2 L355.7 555.4 L366.4 555.6 L377.2 555.8 L387.9 556.0 L398.7 556.2 L409.4 556.5 L420.2 556.7 L431.0 557.0 L441.7 557.3 L452.5 557.6 L463.2 557.9 L474.0 558.2 L484.7 558.5 L495.5 558.9 L506.2 559.2 L517.0 559.6" stroke="#008C8C"/>
<path d="M86.8 540.6 L97.6 540.6 L108.3 540.6 L119.1 540.6 L129.8 540.7 L140.6 540.8 L151.3 541.0 L162.1 541.2 L172.8 541.4 L183.6 541.6 L194.3 541.9 L205.1 542.2 L215.9 542.6 L226.6 543.0 L237.4 543.4 L248.1 543.9 L258.9 544.4 L269.6 544.9 L280.4 545.5 L291.1 546.1 L301.9 546.8 L312.7 547.4 L323.4 548.2 L334.2 548.9 L344.9 549.7 L355.7 550.5 L366.4 551.4 L377.2 552.2 L387.9 553.2 L398.7 554.1 L409.4 555.1 L420.2 556.1 L431.0 557.2 L441.7 558.3 L452.5 559.4 L463.2 560.6 L474.0 561.8 L484.7 563.1 L495.5 564.3 L506.2 565.6 L517.0 567.0" stroke="#A8600A"/>
<path d="M86.8 526.8 L97.6 526.4 L108.3 526.1 L119.1 525.8 L129.8 525.5 L140.6 525.2 L151.3 525.0 L162.1 524.8 L172.8 524.6 L183.6 524.4 L194.3 524.2 L205.1 524.0 L215.9 523.9 L226.6 523.8 L237.4 523.7 L248.1 523.6 L258.9 523.5 L269.6 523.5 L280.4 523.5 L291.1 523.5 L301.9 523.5 L312.7 523.5 L323.4 523.6 L334.2 523.6 L344.9 523.7 L355.7 523.8 L366.4 523.9 L377.2 524.1 L387.9 524.2 L398.7 524.4 L409.4 524.6 L420.2 524.8 L431.0 525.1 L441.7 525.3 L452.5 525.6 L463.2 525.9 L474.0 526.2 L484.7 526.5 L495.5 526.9 L506.2 527.2 L517.0 527.6" stroke="#14C83C"/>
<path d="M86.8 564.8 L97.6 564.6 L108.3 564.5 L119.1 564.4 L129.8 564.3 L140.6 564.3 L151.3 564.3 L162.1 564.3 L172.8 564.4 L183.6 564.5 L194.3 564.6 L205.1 564.8 L215.9 565.0 L226.6 565.2 L237.4 565.5 L248.1 565.8 L258.9 566.1 L269.6 566.5 L280.4 566.9 L291.1 567.3 L301.9 567.8 L312.7 568.3 L323.4 568.8 L334.2 569.4 L344.9 570.0 L355.7 570.6 L366.4 571.3 L377.2 572.0 L387.9 572.7 L398.7 573.5 L409.4 574.3 L420.2 575.1 L431.0 576.0 L441.7 576.9 L452.5 577.8 L463.2 578.8 L474.0 579.8 L484.7 580.8 L495.5 581.9 L506.2 583.0 L517.0 584.1" stroke="#C81E78"/>
<path d="M86.8 616.6 L97.6 616.0 L108.3 615.5 L119.1 615.0 L129.8 614.4 L140.6 613.9 L151.3 613.4 L162.1 613.0 L172.8 612.5 L183.6 612.1 L194.3 611.7 L205.1 611.2 L215.9 610.8 L226.6 610.5 L237.4 610.1 L248.1 609.8 L258.9 609.4 L269.6 609.1 L280.4 608.8 L291.1 608.6 L301.9 608.3 L312.7 608.0 L323.4 607.8 L334.2 607.6 L344.9 607.4 L355.7 607.2 L366.4 607.0 L377.2 606.9 L387.9 606.7 L398.7 606.6 L409.4 606.5 L420.2 606.4 L431.0 606.4 L441.7 606.3 L452.5 606.3 L463.2 606.2 L474.0 606.2 L484.7 606.2 L495.5 606.3 L506.2 606.3 L517.0 606.4" stroke="#1EBEC8"/>
<path d="M86.8 549.2 L97.6 549.1 L108.3 549.0 L119.1 549.0 L129.8 549.0 L140.6 548.9 L151.3 548.9 L162.1 549.0 L172.8 549.0 L183.6 549.1 L194.3 549.1 L205.1 549.3 L215.9 549.4 L226.6 549.5 L237.4 549.7 L248.1 549.9 L258.9 550.1 L269.6 550.3 L280.4 550.5 L291.1 550.8 L301.9 551.1 L312.7 551.4 L323.4 551.7 L334.2 552.1 L344.9 552.5 L355.7 552.8 L366.4 553.2 L377.2 553.7 L387.9 554.1 L398.7 554.6 L409.4 555.1 L420.2 555.6 L431.0 556.1 L441.7 556.7 L452.5 557.2 L463.2 557.8 L474.0 558.5 L484.7 559.1 L495.5 559.7 L506.2 560.4 L517.0 561.1" stroke="#3C32A0"/>
<path d="M86.8 557.9 L97.6 557.4 L108.3 557.0 L119.1 556.6 L129.8 556.3 L140.6 555.9 L151.3 555.6 L162.1 555.4 L172.8 555.1 L183.6 554.9 L194.3 554.8 L205.1 554.6 L215.9 554.5 L226.6 554.5 L237.4 554.4 L248.1 554.4 L258.9 554.4 L269.6 554.5 L280.4 554.5 L291.1 554.6 L301.9 554.8 L312.7 555.0 L323.4 555.2 L334.2 555.4 L344.9 555.6 L355.7 555.9 L366.4 556.3 L377.2 556.6 L387.9 557.0 L398.7 557.4 L409.4 557.9 L420.2 558.4 L431.0 558.9 L441.7 559.4 L452.5 560.0 L463.2 560.6 L474.0 561.2 L484.7 561.9 L495.5 562.6 L506.2 563.3 L517.0 564.1" stroke="#8C961E"/>
<path d="M86.8 628.7 L97.6 626.5 L108.3 624.3 L119.1 622.2 L129.8 620.1 L140.6 618.1 L151.3 616.1 L162.1 614.1 L172.8 612.3 L183.6 610.4 L194.3 608.6 L205.1 606.9 L215.9 605.2 L226.6 603.6 L237.4 602.0 L248.1 600.5 L258.9 599.0 L269.6 597.6 L280.4 596.2 L291.1 594.9 L301.9 593.6 L312.7 592.4 L323.4 591.2 L334.2 590.0 L344.9 589.0 L355.7 587.9 L366.4 586.9 L377.2 586.0 L387.9 585.1 L398.7 584.3 L409.4 583.5 L420.2 582.8 L431.0 582.1 L441.7 581.5 L452.5 580.9 L463.2 580.4 L474.0 579.9 L484.7 579.5 L495.5 579.1 L506.2 578.8 L517.0 578.5" stroke="#828282"/>
<path d="M86.8 528.5 L97.6 529.2 L108.3 529.9 L119.1 530.7 L129.8 531.5 L140.6 532.4 L151.3 533.2 L162.1 534.2 L172.8 535.1 L183.6 536.1 L194.3 537.1 L205.1 538.1 L215.9 539.2 L226.6 540.3 L237.4 541.4 L248.1 542.6 L258.9 543.8 L269.6 545.1 L280.4 546.3 L291.1 547.6 L301.9 549.0 L312.7 550.4 L323.4 551.8 L334.2 553.2 L344.9 554.7 L355.7 556.2 L366.4 557.7 L377.2 559.3 L387.9 560.9 L398.7 562.5 L409.4 564.2 L420.2 565.9 L431.0 567.6 L441.7 569.4 L452.5 571.2 L463.2 573.0 L474.0 574.9 L484.7 576.8 L495.5 578.8 L506.2 580.7 L517.0 582.7" stroke="#96504B"/>
<path d="M86.8 602.8 L97.6 602.3 L108.3 601.8 L119.1 601.4 L129.8 601.0 L140.6 600.6 L151.3 600.3 L162.1 599.9 L172.8 599.6 L183.6 599.4 L194.3 599.1 L205.1 598.9 L215.9 598.7 L226.6 598.5 L237.4 598.3 L248.1 598.2 L258.9 598.1 L269.6 598.1 L280.4 598.0 L291.1 598.0 L301.9 598.0 L312.7 598.0 L323.4 598.1 L334.2 598.2 L344.9 598.3 L355.7 598.4 L366.4 598.6 L377.2 598.8 L387.9 599.0 L398.7 599.2 L409.4 599.5 L420.2 599.8 L431.0 600.1 L441.7 600.5 L452.5 600.8 L463.2 601.2 L474.0 601.7 L484.7 602.1 L495.5 602.6 L506.2 603.1 L517.0 603.6" stroke="#6EA06E"/>
<path d="M86.8 545.8 L97.6 546.0 L108.3 546.2 L119.1 546.5 L129.8 546.8 L140.6 547.2 L151.3 547.6 L162.1 548.0 L172.8 548.5 L183.6 549.1 L194.3 549.7 L205.1 550.3 L215.9 550.9 L226.6 551.6 L237.4 552.4 L248.1 553.2 L258.9 554.0 L269.6 554.9 L280.4 555.8 L291.1 556.8 L301.9 557.8 L312.7 558.9 L323.4 560.0 L334.2 561.1 L344.9 562.3 L355.7 563.5 L366.4 564.8 L377.2 566.1 L387.9 567.4 L398.7 568.8 L409.4 570.2 L420.2 571.7 L431.0 573.2 L441.7 574.8 L452.5 576.4 L463.2 578.1 L474.0 579.7 L484.7 581.5 L495.5 583.3 L506.2 585.1 L517.0 586.9" stroke="#28AADC"/>
<path d="M86.8 575.1 L97.6 575.7 L108.3 576.2 L119.1 576.8 L129.8 577.5 L140.6 578.2 L151.3 578.9 L162.1 579.7 L172.8 580.5 L183.6 581.4 L194.3 582.3 L205.1 583.2 L215.9 584.2 L226.6 585.2 L237.4 586.2 L248.1 587.3 L258.9 588.5 L269.6 589.7 L280.4 590.9 L291.1 592.2 L301.9 593.5 L312.7 594.8 L323.4 596.2 L334.2 597.6 L344.9 599.1 L355.7 600.6 L366.4 602.1 L377.2 603.7 L387.9 605.4 L398.7 607.0 L409.4 608.8 L420.2 610.5 L431.0 612.3 L441.7 614.1 L452.5 616.0 L463.2 617.9 L474.0 619.9 L484.7 621.9 L495.5 623.9 L506.2 626.0 L517.0 628.1" stroke="#3C6EAA"/>
<path d="M86.8 606.2 L97.6 605.4 L108.3 604.6 L119.1 603.9 L129.8 603.3 L140.6 602.7 L151.3 602.2 L162.1 601.7 L172.8 601.3 L183.6 601.0 L194.3 600.7 L205.1 600.4 L215.9 600.3 L226.6 600.2 L237.4 600.1 L248.1 600.1 L258.9 600.2 L269.6 600.3 L280.4 600.5 L291.1 600.8 L301.9 601.1 L312.7 601.5 L323.4 601.9 L334.2 602.4 L344.9 603.0 L355.7 603.6 L366.4 604.2 L377.2 605.0 L387.9 605.8 L398.7 606.6 L409.4 607.5 L420.2 608.5 L431.0 609.6 L441.7 610.6 L452.5 611.8 L463.2 613.0 L474.0 614.3 L484.7 615.6 L495.5 617.0 L506.2 618.5 L517.0 620.0" stroke="#000000"/>
<path d="M86.8 573.4 L97.6 573.0 L108.3 572.6 L119.1 572.2 L129.8 571.8 L140.6 571.5 L151.3 571.2 L162.1 570.9 L172.8 570.6 L183.6 570.4 L194.3 570.2 L205.1 570.0 L215.9 569.9 L226.6 569.7 L237.4 569.6 L248.1 569.5 L258.9 569.5 L269.6 569.4 L280.4 569.4 L291.1 569.4 L301.9 569.5 L312.7 569.6 L323.4 569.7 L334.2 569.8 L344.9 569.9 L355.7 570.1 L366.4 570.3 L377.2 570.5 L387.9 570.7 L398.7 571.0 L409.4 571.3 L420.2 571.6 L431.0 572.0 L441.7 572.3 L452.5 572.7 L463.2 573.2 L474.0 573.6 L484.7 574.1 L495.5 574.6 L506.2 575.1 L517.0 575.6" stroke="#FF0000"/>
<path d="M86.8 624.0 L97.6 624.1 L108.3 624.2 L119.1 624.4 L129.8 624.6 L140.6 624.8 L151.3 625.0 L162.1 625.3 L172.8 625.6 L183.6 625.9 L194.3 626.2 L205.1 626.6 L215.9 627.0 L226.6 627.4 L237.4 627.9 L248.1 628.3 L258.9 628.8 L269.6 629.3 L280.4 629.9 L291.1 630.4 L301.9 631.0 L312.7 631.6 L323.4 632.2 L334.2 632.9 L344.9 633.6 L355.7 634.3 L366.4 635.0 L377.2 635.8 L387.9 636.6 L398.7 637.4 L409.4 638.2 L420.2 639.1 L431.0 640.0 L441.7 640.9 L452.5 641.9 L463.2 642.8 L474.0 643.8 L484.7 644.8 L495.5 645.9 L506.2 646.9 L517.0 648.0" stroke="#0000FF"/>
<path d="M86.8 568.2 L97.6 568.1 L108.3 568.0 L119.1 568.0 L129.8 568.0 L140.6 568.1 L151.3 568.2 L162.1 568.3 L172.8 568.5 L183.6 568.7 L194.3 569.0 L205.1 569.3 L215.9 569.7 L226.6 570.1 L237.4 570.6 L248.1 571.1 L258.9 571.6 L269.6 572.2 L280.4 572.8 L291.1 573.5 L301.9 574.2 L312.7 575.0 L323.4 575.8 L334.2 576.7 L344.9 577.6 L355.7 578.5 L366.4 579.5 L377.2 580.6 L387.9 581.6 L398.7 582.8 L409.4 583.9 L420.2 585.2 L431.0 586.4 L441.7 587.7 L452.5 589.1 L463.2 590.5 L474.0 591.9 L484.7 593.4 L495.5 594.9 L506.2 596.5 L517.0 598.1" stroke="#FF00FF"/>
<path d="M86.8 544.0 L97.6 543.9 L108.3 543.8 L119.1 543.7 L129.8 543.6 L140.6 543.6 L151.3 543.6 L162.1 543.6 L172.8 543.6 L183.6 543.7 L194.3 543.8 L205.1 543.9 L215.9 544.0 L226.6 544.2 L237.4 544.4 L248.1 544.6 L258.9 544.8 L269.6 545.1 L280.4 545.4 L291.1 545.7 L301.9 546.0 L312.7 546.4 L323.4 546.8 L334.2 547.2 L344.9 547.6 L355.7 548.1 L366.4 548.6 L377.2 549.1 L387.9 549.7 L398.7 550.2 L409.4 550.8 L420.2 551.4 L431.0 552.1 L441.7 552.7 L452.5 553.4 L463.2 554.1 L474.0 554.9 L484.7 555.7 L495.5 556.4 L506.2 557.3 L517.0 558.1" stroke="#008000"/>
<path d="M86.8 601.1 L97.6 600.7 L108.3 600.5 L119.1 600.2 L129.8 600.0 L140.6 599.9 L151.3 599.8 L162.1 599.8 L172.8 599.8 L183.6 599.9 L194.3 600.0 L205.1 600.2 L215.9 600.4 L226.6 600.7 L237.4 601.0 L248.1 601.3 L258.9 601.8 L269.6 602.2 L280.4 602.8 L291.1 603.3 L301.9 603.9 L312.7 604.6 L323.4 605.3 L334.2 606.1 L344.9 606.9 L355.7 607.8 L366.4 608.7 L377.2 609.7 L387.9 610.7 L398.7 611.7 L409.4 612.9 L420.2 614.0 L431.0 615.2 L441.7 616.5 L452.5 617.8 L463.2 619.2 L474.0 620.6 L484.7 622.1 L495.5 623.6 L506.2 625.2 L517.0 626.8" stroke="#000080"/>
<path d="M86.8 530.2 L97.6 530.7 L108.3 531.1 L119.1 531.6 L129.8 532.1 L140.6 532.7 L151.3 533.2 L162.1 533.8 L172.8 534.4 L183.6 535.0 L194.3 535.6 L205.1 536.2 L215.9 536.9 L226.6 537.5 L237.4 538.2 L248.1 538.9 L258.9 539.7 L269.6 540.4 L280.4 541.2 L291.1 542.0 L301.9 542.8 L312.7 543.6 L323.4 544.4 L334.2 545.3 L344.9 546.1 L355.7 547.0 L366.4 547.9 L377.2 548.9 L387.9 549.8 L398.7 550.8 L409.4 551.8 L420.2 552.8 L431.0 553.8 L441.7 554.8 L452.5 555.9 L463.2 556.9 L474.0 558.0 L484.7 559.1 L495.5 560.3 L506.2 561.4 L517.0 562.6" stroke="#8000FF"/>
<path d="M86.8 538.9 L97.6 538.8 L108.3 538.8 L119.1 538.7 L129.8 538.7 L140.6 538.7 L151.3 538.8 L162.1 538.8 L172.8 538.9 L183.6 539.0 L194.3 539.1 L205.1 539.2 L215.9 539.3 L226.6 539.5 L237.4 539.6 L248.1 539.8 L258.9 540.0 L269.6 540.3 L280.4 540.5 L291.1 540.8 L301.9 541.1 L312.7 541.3 L323.4 541.7 L334.2 542.0 L344.9 542.3 L355.7 542.7 L366.4 543.1 L377.2 543.5 L387.9 543.9 L398.7 544.4 L409.4 544.8 L420.2 545.3 L431.0 545.8 L441.7 546.3 L452.5 546.8 L463.2 547.4 L474.0 547.9 L484.7 548.5 L495.5 549.1 L506.2 549.7 L517.0 550.4" stroke="#800080"/>
<path d="M86.8 585.5 L97.6 584.1 L108.3 582.7 L119.1 581.4 L129.8 580.0 L140.6 578.7 L151.3 577.5 L162.1 576.2 L172.8 575.0 L183.6 573.8 L194.3 572.6 L205.1 571.4 L215.9 570.3 L226.6 569.2 L237.4 568.1 L248.1 567.1 L258.9 566.0 L269.6 565.0 L280.4 564.0 L291.1 563.1 L301.9 562.2 L312.7 561.2 L323.4 560.4 L334.2 559.5 L344.9 558.7 L355.7 557.9 L366.4 557.1 L377.2 556.3 L387.9 555.6 L398.7 554.9 L409.4 554.2 L420.2 553.5 L431.0 552.9 L441.7 552.3 L452.5 551.7 L463.2 551.1 L474.0 550.6 L484.7 550.1 L495.5 549.6 L506.2 549.1 L517.0 548.7" stroke="#800000"/>
<path d="M86.8 639.0 L97.6 637.8 L108.3 636.7 L119.1 635.7 L129.8 634.7 L140.6 633.7 L151.3 632.8 L162.1 631.9 L172.8 631.0 L183.6 630.2 L194.3 629.5 L205.1 628.8 L215.9 628.1 L226.6 627.5 L237.4 627.0 L248.1 626.4 L258.9 626.0 L269.6 625.5 L280.4 625.1 L291.1 624.8 L301.9 624.5 L312.7 624.2 L323.4 624.0 L334.2 623.9 L344.9 623.8 L355.7 623.7 L366.4 623.7 L377.2 623.7 L387.9 623.7 L398.7 623.8 L409.4 624.0 L420.2 624.2 L431.0 624.4 L441.7 624.7 L452.5 625.1 L463.2 625.4 L474.0 625.9 L484.7 626.3 L495.5 626.8 L506.2 627.4 L517.0 628.0" stroke="#808000"/>
<path d="M86.8 595.9 L97.6 595.3 L108.3 594.7 L119.1 594.1 L129.8 593.6 L140.6 593.2 L151.3 592.8 L162.1 592.4 L172.8 592.1 L183.6 591.8 L194.3 591.6 L205.1 591.4 L215.9 591.2 L226.6 591.1 L237.4 591.1 L248.1 591.1 L258.9 591.1 L269.6 591.2 L280.4 591.3 L291.1 591.4 L301.9 591.6 L312.7 591.9 L323.4 592.2 L334.2 592.5 L344.9 592.9 L355.7 593.3 L366.4 593.8 L377.2 594.3 L387.9 594.9 L398.7 595.5 L409.4 596.1 L420.2 596.8 L431.0 597.5 L441.7 598.3 L452.5 599.1 L463.2 600.0 L474.0 600.9 L484.7 601.9 L495.5 602.9 L506.2 603.9 L517.0 605.0" stroke="#1E5AA8"/>
<path d="M86.8 518.8 L97.6 519.6 L108.3 520.5 L119.1 521.3 L129.8 522.2 L140.6 523.1 L151.3 524.0 L162.1 524.9 L172.8 525.9 L183.6 526.8 L194.3 527.8 L205.1 528.8 L215.9 529.8 L226.6 530.9 L237.4 531.9 L248.1 533.0 L258.9 534.1 L269.6 535.2 L280.4 536.3 L291.1 537.4 L301.9 538.6 L312.7 539.8 L323.4 541.0 L334.2 542.2 L344.9 543.4 L355.7 544.7 L366.4 545.9 L377.2 547.2 L387.9 548.5 L398.7 549.8 L409.4 551.2 L420.2 552.5 L431.0 553.9 L441.7 555.3 L452.5 556.7 L463.2 558.1 L474.0 559.6 L484.7 561.0 L495.5 562.5 L506.2 564.0 L517.0 565.5" stroke="#008C8C"/>
<path d="M86.8 566.5 L97.6 566.7 L108.3 566.8 L119.1 567.1 L129.8 567.3 L140.6 567.5 L151.3 567.8 L162.1 568.1 L172.8 568.4 L183.6 568.7 L194.3 569.1 L205.1 569.5 L215.9 569.9 L226.6 570.3 L237.4 570.7 L248.1 571.2 L258.9 571.7 L269.6 572.2 L280.4 572.7 L291.1 573.2 L301.9 573.8 L312.7 574.4 L323.4 575.0 L334.2 575.7 L344.9 576.3 L355.7 577.0 L366.4 577.7 L377.2 578.4 L387.9 579.2 L398.7 579.9 L409.4 580.7 L420.2 581.5 L431.0 582.3 L441.7 583.2 L452.5 584.1 L463.2 585.0 L474.0 585.9 L484.7 586.8 L495.5 587.8 L506.2 588.7 L517.0 589.7" stroke="#A8600A"/>
<path d="M86.8 512.6 L97.6 512.7 L108.3 512.9 L119.1 513.1 L129.8 513.4 L140.6 513.6 L151.3 513.9 L162.1 514.1 L172.8 514.4 L183.6 514.7 L194.3 515.1 L205.1 515.4 L215.9 515.8 L226.6 516.1 L237.4 516.5 L248.1 516.9 L258.9 517.4 L269.6 517.8 L280.4 518.3 L291.1 518.7 L301.9 519.2 L312.7 519.7 L323.4 520.3 L334.2 520.8 L344.9 521.4 L355.7 522.0 L366.4 522.6 L377.2 523.2 L387.9 523.8 L398.7 524.5 L409.4 525.1 L420.2 525.8 L431.0 526.5 L441.7 527.2 L452.5 527.9 L463.2 528.7 L474.0 529.5 L484.7 530.2 L495.5 531.0 L506.2 531.9 L517.0 532.7" stroke="#14C83C"/>
<path d="M86.8 609.7 L97.6 608.1 L108.3 606.5 L119.1 605.0 L129.8 603.5 L140.6 602.1 L151.3 600.8 L162.1 599.5 L172.8 598.3 L183.6 597.1 L194.3 596.0 L205.1 595.0 L215.9 594.0 L226.6 593.1 L237.4 592.2 L248.1 591.4 L258.9 590.7 L269.6 590.0 L280.4 589.4 L291.1 588.9 L301.9 588.4 L312.7 587.9 L323.4 587.6 L334.2 587.3 L344.9 587.0 L355.7 586.8 L366.4 586.7 L377.2 586.6 L387.9 586.6 L398.7 586.6 L409.4 586.7 L420.2 586.9 L431.0 587.1 L441.7 587.4 L452.5 587.8 L463.2 588.2 L474.0 588.7 L484.7 589.2 L495.5 589.8 L506.2 590.4 L517.0 591.1" stroke="#C81E78"/>
<path d="M86.8 582.1 L97.6 582.7 L108.3 583.3 L119.1 584.0 L129.8 584.7 L140.6 585.4 L151.3 586.2 L162.1 587.0 L172.8 587.8 L183.6 588.6 L194.3 589.5 L205.1 590.4 L215.9 591.3 L226.6 592.3 L237.4 593.3 L248.1 594.3 L258.9 595.4 L269.6 596.5 L280.4 597.6 L291.1 598.7 L301.9 599.9 L312.7 601.1 L323.4 602.3 L334.2 603.6 L344.9 604.9 L355.7 606.2 L366.4 607.5 L377.2 608.9 L387.9 610.3 L398.7 611.8 L409.4 613.2 L420.2 614.7 L431.0 616.2 L441.7 617.8 L452.5 619.4 L463.2 621.0 L474.0 622.6 L484.7 624.3 L495.5 626.0 L506.2 627.7 L517.0 629.5" stroke="#1EBEC8"/>
<path d="M86.8 559.6 L97.6 558.9 L108.3 558.3 L119.1 557.8 L129.8 557.3 L140.6 556.8 L151.3 556.3 L162.1 556.0 L172.8 555.6 L183.6 555.3 L194.3 555.1 L205.1 554.9 L215.9 554.7 L226.6 554.6 L237.4 554.5 L248.1 554.5 L258.9 554.5 L269.6 554.6 L280.4 554.7 L291.1 554.9 L301.9 555.1 L312.7 555.3 L323.4 555.6 L334.2 555.9 L344.9 556.3 L355.7 556.7 L366.4 557.2 L377.2 557.7 L387.9 558.3 L398.7 558.9 L409.4 559.5 L420.2 560.2 L431.0 560.9 L441.7 561.7 L452.5 562.5 L463.2 563.4 L474.0 564.3 L484.7 565.3 L495.5 566.3 L506.2 567.3 L517.0 568.4" stroke="#3C32A0"/>
<path d="M86.8 597.6 L97.6 597.1 L108.3 596.7 L119.1 596.3 L129.8 595.9 L140.6 595.5 L151.3 595.1 L162.1 594.8 L172.8 594.5 L183.6 594.2 L194.3 593.9 L205.1 593.6 L215.9 593.4 L226.6 593.2 L237.4 593.0 L248.1 592.8 L258.9 592.7 L269.6 592.5 L280.4 592.4 L291.1 592.3 L301.9 592.3 L312.7 592.2 L323.4 592.2 L334.2 592.2 L344.9 592.2 L355.7 592.2 L366.4 592.3 L377.2 592.4 L387.9 592.5 L398.7 592.6 L409.4 592.7 L420.2 592.9 L431.0 593.1 L441.7 593.3 L452.5 593.5 L463.2 593.8 L474.0 594.0 L484.7 594.3 L495.5 594.6 L506.2 595.0 L517.0 595.3" stroke="#8C961E"/>
</g>
<path d="M88.0 553.0 L109.0 554.5 L130.0 556.5 L151.0 559.0 L172.5 560.8 L194.0 563.0 L216.0 565.0 L237.0 567.0 L259.0 570.0 L280.0 572.0 L302.0 574.5 L323.0 577.0 L345.0 580.0 L366.0 582.4 L388.0 585.0 L409.0 587.4 L430.0 589.6 L452.0 593.2 L474.0 596.0 L495.0 598.4 L516.0 602.0" fill="none" stroke="#FF00FF" stroke-width="3.1"/>
<defs><radialGradient id="mg" cx="0.4" cy="0.4" r="0.6"><stop offset="0" stop-color="#ffd0ff"/><stop offset="0.45" stop-color="#ff40ff"/><stop offset="1" stop-color="#ff00ff"/></radialGradient></defs>
<circle cx="88.0" cy="553.0" r="3.9" fill="url(#mg)"/>
<circle cx="109.0" cy="554.5" r="3.9" fill="url(#mg)"/>
<circle cx="130.0" cy="556.5" r="3.9" fill="url(#mg)"/>
<circle cx="151.0" cy="559.0" r="3.9" fill="url(#mg)"/>
<circle cx="172.5" cy="560.8" r="3.9" fill="url(#mg)"/>
<circle cx="194.0" cy="563.0" r="3.9" fill="url(#mg)"/>
<circle cx="216.0" cy="565.0" r="3.9" fill="url(#mg)"/>
<circle cx="237.0" cy="567.0" r="3.9" fill="url(#mg)"/>
<circle cx="259.0" cy="570.0" r="3.9" fill="url(#mg)"/>
<circle cx="280.0" cy="572.0" r="3.9" fill="url(#mg)"/>
<circle cx="302.0" cy="574.5" r="3.9" fill="url(#mg)"/>
<circle cx="323.0" cy="577.0" r="3.9" fill="url(#mg)"/>
<circle cx="345.0" cy="580.0" r="3.9" fill="url(#mg)"/>
<circle cx="366.0" cy="582.4" r="3.9" fill="url(#mg)"/>
<circle cx="388.0" cy="585.0" r="3.9" fill="url(#mg)"/>
<circle cx="409.0" cy="587.4" r="3.9" fill="url(#mg)"/>
<circle cx="430.0" cy="589.6" r="3.9" fill="url(#mg)"/>
<circle cx="452.0" cy="593.2" r="3.9" fill="url(#mg)"/>
<circle cx="474.0" cy="596.0" r="3.9" fill="url(#mg)"/>
<circle cx="495.0" cy="598.4" r="3.9" fill="url(#mg)"/>
<circle cx="516.0" cy="602.0" r="3.9" fill="url(#mg)"/>
<line x1="86.3" y1="508.6" x2="517.0" y2="504.8" stroke="#808000" stroke-width="1.9" stroke-dasharray="12.6 4.3 2.7 4.3"/>
<line x1="86.3" y1="653.4" x2="517.0" y2="650.4" stroke="#808000" stroke-width="1.9" stroke-dasharray="12.6 4.3 2.7 4.3"/>
<g stroke="#000" stroke-width="1.3" fill="none">
<rect x="86.8" y="430.7" width="430.2" height="285.7"/>
<line x1="86.8" y1="716.4" x2="86.8" y2="713.1" stroke-width="1"/>
<line x1="129.8" y1="716.4" x2="129.8" y2="714.2" stroke-width="1"/>
<line x1="172.8" y1="716.4" x2="172.8" y2="713.1" stroke-width="1"/>
<line x1="215.9" y1="716.4" x2="215.9" y2="714.2" stroke-width="1"/>
<line x1="258.9" y1="716.4" x2="258.9" y2="713.1" stroke-width="1"/>
<line x1="301.9" y1="716.4" x2="301.9" y2="714.2" stroke-width="1"/>
<line x1="344.9" y1="716.4" x2="344.9" y2="713.1" stroke-width="1"/>
<line x1="387.9" y1="716.4" x2="387.9" y2="714.2" stroke-width="1"/>
<line x1="431.0" y1="716.4" x2="431.0" y2="713.1" stroke-width="1"/>
<line x1="474.0" y1="716.4" x2="474.0" y2="714.2" stroke-width="1"/>
<line x1="517.0" y1="716.4" x2="517.0" y2="713.1" stroke-width="1"/>
</g>
<ellipse cx="158" cy="560" rx="12" ry="15.5" fill="none" stroke="#000" stroke-width="2.1" stroke-dasharray="1.9 2.7"/>
<line x1="156.5" y1="556.7" x2="201.5" y2="483.4" stroke="#000" stroke-width="2.7"/>
<polygon points="209.5,470.5 204.0,489.4 195.1,483.9" fill="#000"/>
<line x1="303.7" y1="638.3" x2="303.7" y2="520.2" stroke="#000" stroke-width="2.8"/>
<polygon points="303.7,508.2 308.0,523.2 299.4,523.2" fill="#000"/>
<polygon points="303.7,650.3 308.0,635.3 299.4,635.3" fill="#000"/>
<line x1="307.5" y1="552.5" x2="346.0" y2="502.6" stroke="#000" stroke-width="2.7"/>
<polygon points="352.4,494.4 348.2,507.6 340.7,501.8" fill="#000"/>
<g font-family="'Liberation Serif', serif" fill="#111">
<text x="186" y="463.5" font-size="22" font-weight="bold" textLength="165" lengthAdjust="spacingAndGlyphs">Reference State</text>
<text x="351.8" y="491" font-size="22" font-weight="bold" textLength="64.5" lengthAdjust="spacingAndGlyphs">3.5 dB</text>
<text x="82.6" y="439.5" font-size="25.5" text-anchor="end" textLength="32.2" lengthAdjust="spacing"><tspan font-size="16.5" dy="-0.6" stroke="#111" stroke-width="0.85">–</tspan><tspan dy="0.6">10</tspan></text>
<text x="82.6" y="521.1" font-size="25.5" text-anchor="end" textLength="32.2" lengthAdjust="spacing"><tspan font-size="16.5" dy="-0.6" stroke="#111" stroke-width="0.85">–</tspan><tspan dy="0.6">12</tspan></text>
<text x="82.6" y="602.8" font-size="25.5" text-anchor="end" textLength="32.2" lengthAdjust="spacing"><tspan font-size="16.5" dy="-0.6" stroke="#111" stroke-width="0.85">–</tspan><tspan dy="0.6">14</tspan></text>
<text x="82.6" y="684.4" font-size="25.5" text-anchor="end" textLength="32.2" lengthAdjust="spacing"><tspan font-size="16.5" dy="-0.6" stroke="#111" stroke-width="0.85">–</tspan><tspan dy="0.6">16</tspan></text>
<text x="87.1" y="740.8" font-size="25.5" text-anchor="middle" textLength="23.8" lengthAdjust="spacing">90</text>
<text x="173.1" y="740.8" font-size="25.5" text-anchor="middle" textLength="23.8" lengthAdjust="spacing">92</text>
<text x="259.2" y="740.8" font-size="25.5" text-anchor="middle" textLength="23.8" lengthAdjust="spacing">94</text>
<text x="345.2" y="740.8" font-size="25.5" text-anchor="middle" textLength="23.8" lengthAdjust="spacing">96</text>
<text x="431.3" y="740.8" font-size="25.5" text-anchor="middle" textLength="23.8" lengthAdjust="spacing">98</text>
<text x="518.2" y="740.8" font-size="25.5" text-anchor="middle" textLength="35.4" lengthAdjust="spacing">100</text>
<text x="301.7" y="765.6" font-size="24.7" text-anchor="middle" textLength="174" lengthAdjust="spacingAndGlyphs">Frequency(GHz)</text>
<text transform="translate(36.6 562.8) rotate(-90) scale(0.9 1)" font-size="25" text-anchor="middle">S<tspan font-size="15.5" dy="6.5">21</tspan><tspan dy="-6.5" letter-spacing="1.2">(dB)</tspan></text>
<text x="275" y="813.2" font-size="22.5" text-anchor="middle">(<tspan font-weight="bold">b</tspan>)</text>
</g>
</svg>
</body></html>
